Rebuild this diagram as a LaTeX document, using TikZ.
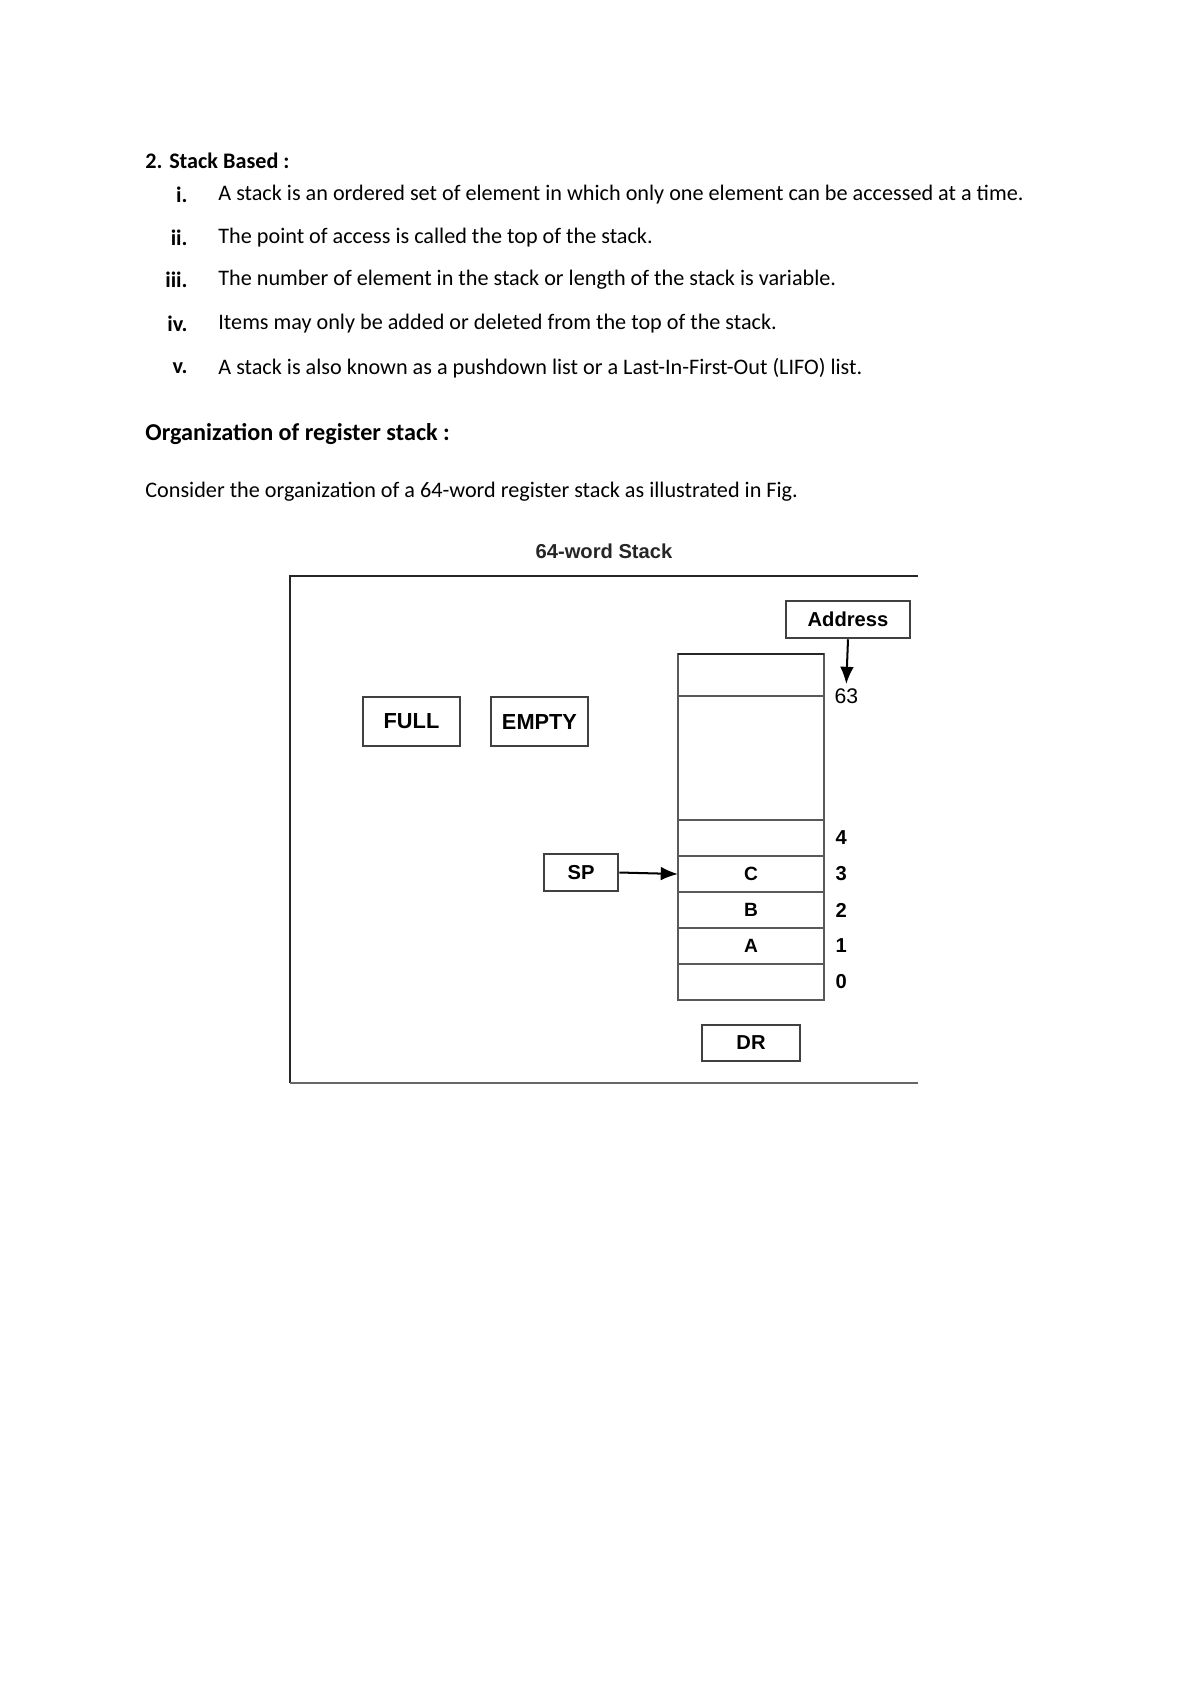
\documentclass[tikz,border=0pt]{standalone}
\usepackage{fontspec}
\setmainfont{Carlito}
\newfontfamily\arialfont{Liberation Sans}
\usetikzlibrary{positioning,arrows.meta}

\begin{document}
\begin{tikzpicture}[
    x=0.4958pt,
    y=-0.4958pt,
    txt/.style={
        anchor=west,
        inner sep=0pt,
        font=\fontsize{11}{13}\selectfont
    },
    num/.style={
        anchor=east,
        inner sep=0pt,
        font=\fontsize{11}{13}\selectfont\bfseries
    },
    box/.style={
        rectangle,
        draw=black!75,
        line width=1.3pt,
        inner sep=0pt,
        font=\arialfont\bfseries\fontsize{10}{12}\selectfont
    },
    cell/.style={
        rectangle,
        draw=black!65,
        line width=0.8pt,
        minimum width=72.4pt,
        minimum height=17.85pt,
        inner sep=0pt,
        outer sep=0pt,
        font=\arialfont\bfseries\fontsize{9.5}{11}\selectfont
    },
    idx/.style={
        anchor=west,
        inner sep=0pt,
        font=\arialfont\bfseries\fontsize{10}{12}\selectfont
    },
    arrow/.style={
        -{Latex[length=3mm,width=2.4mm]},
        line width=1pt
    }
]
\useasboundingbox (0,0) rectangle (1200,1698);

% text above the figure
\node[txt, font=\fontsize{11}{13}\selectfont\bfseries] (head) at (145,161)
{2. Stack Based :};

\node[num] (n1) at (188,195) {i.};
\node[txt] (t1) at (218,195)
{A stack is an ordered set of element in which only one element can be accessed at a time.};

\node[num] (n2) at (188,238) {ii.};
\node[txt] (t2) at (218,238)
{The point of access is called the top of the stack.};

\node[num] (n3) at (188,280) {iii.};
\node[txt] (t3) at (218,280)
{The number of element in the stack or length of the stack is variable.};

\node[num] (n4) at (188,324) {iv.};
\node[txt] (t4) at (218,324)
{Items may only be added or deleted from the top of the stack.};

\node[num] (n5) at (188,368) {v.};
\node[txt] (t5) at (218,368)
{A stack is also known as a pushdown list or a Last-In-First-Out (LIFO) list.};

\node[txt, font=\fontsize{12}{14}\selectfont\bfseries] (org) at (145,434)
{Organization of register stack :};

\node[txt] (intro) at (145,492)
{Consider the organization of a 64-word register stack as illustrated in Fig.};

% figure
\node[font=\arialfont\bfseries\fontsize{10}{12}\selectfont, text=black!85] (title) at (604,551)
{64-word Stack};

\coordinate (ftl) at (290,576);
\coordinate (ftr) at (918,576);
\coordinate (fbl) at (290,1083);
\coordinate (fbr) at (918,1083);
\draw[line width=1.4pt, black!85] (ftr) -- (ftl) -- (fbl);
\draw[line width=0.8pt, black!60] (fbl) -- (fbr);

\node[box, font=\arialfont\bfseries\fontsize{10.8}{12}\selectfont, minimum width=48.1pt, minimum height=24.3pt] (full) at (411.5,721.5) {FULL};
\node[box, font=\arialfont\bfseries\fontsize{10.8}{12}\selectfont, minimum width=48.1pt, minimum height=24.3pt] (empty) at (539.5,721.5) {EMPTY};

% the stack
\node[cell, minimum height=20.8pt] (c63) at (751,675) {};
\draw[line width=1.3pt, black!85] (c63.north west) -- (c63.north east);
\node[cell, minimum height=61.5pt, below=0pt of c63] (cmid) {};
\node[cell, below=0pt of cmid] (c4) {};
\node[cell, below=0pt of c4] (c3) {C};
\node[cell, below=0pt of c3] (c2) {B};
\node[cell, below=0pt of c2] (c1) {A};
\node[cell, below=0pt of c1] (c0) {};

\node[idx, font=\arialfont\fontsize{10.5}{12}\selectfont] (l63) at ([xshift=5pt]c63.south east) {63};
\node[idx, right=5.5pt of c4] (l4) {4};
\node[idx, right=5.5pt of c3] (l3) {3};
\node[idx, right=5.5pt of c2] (l2) {2};
\node[idx, right=5.5pt of c1] (l1) {1};
\node[idx, right=5.5pt of c0] (l0) {0};

\node[box, minimum width=61.5pt, minimum height=18.3pt] (addr) at (848,619.5) {Address};
\node[box, minimum width=36.7pt, minimum height=18.3pt] (sp) at (581,872.5) {SP};
\node[box, minimum width=48.6pt, minimum height=17.9pt] (dr) at (751,1043) {DR};

\draw[arrow] (addr.south) -- ([yshift=2pt]l63.north);
\draw[arrow] (sp.east) -- (c3.west);

\end{tikzpicture}
\end{document}
